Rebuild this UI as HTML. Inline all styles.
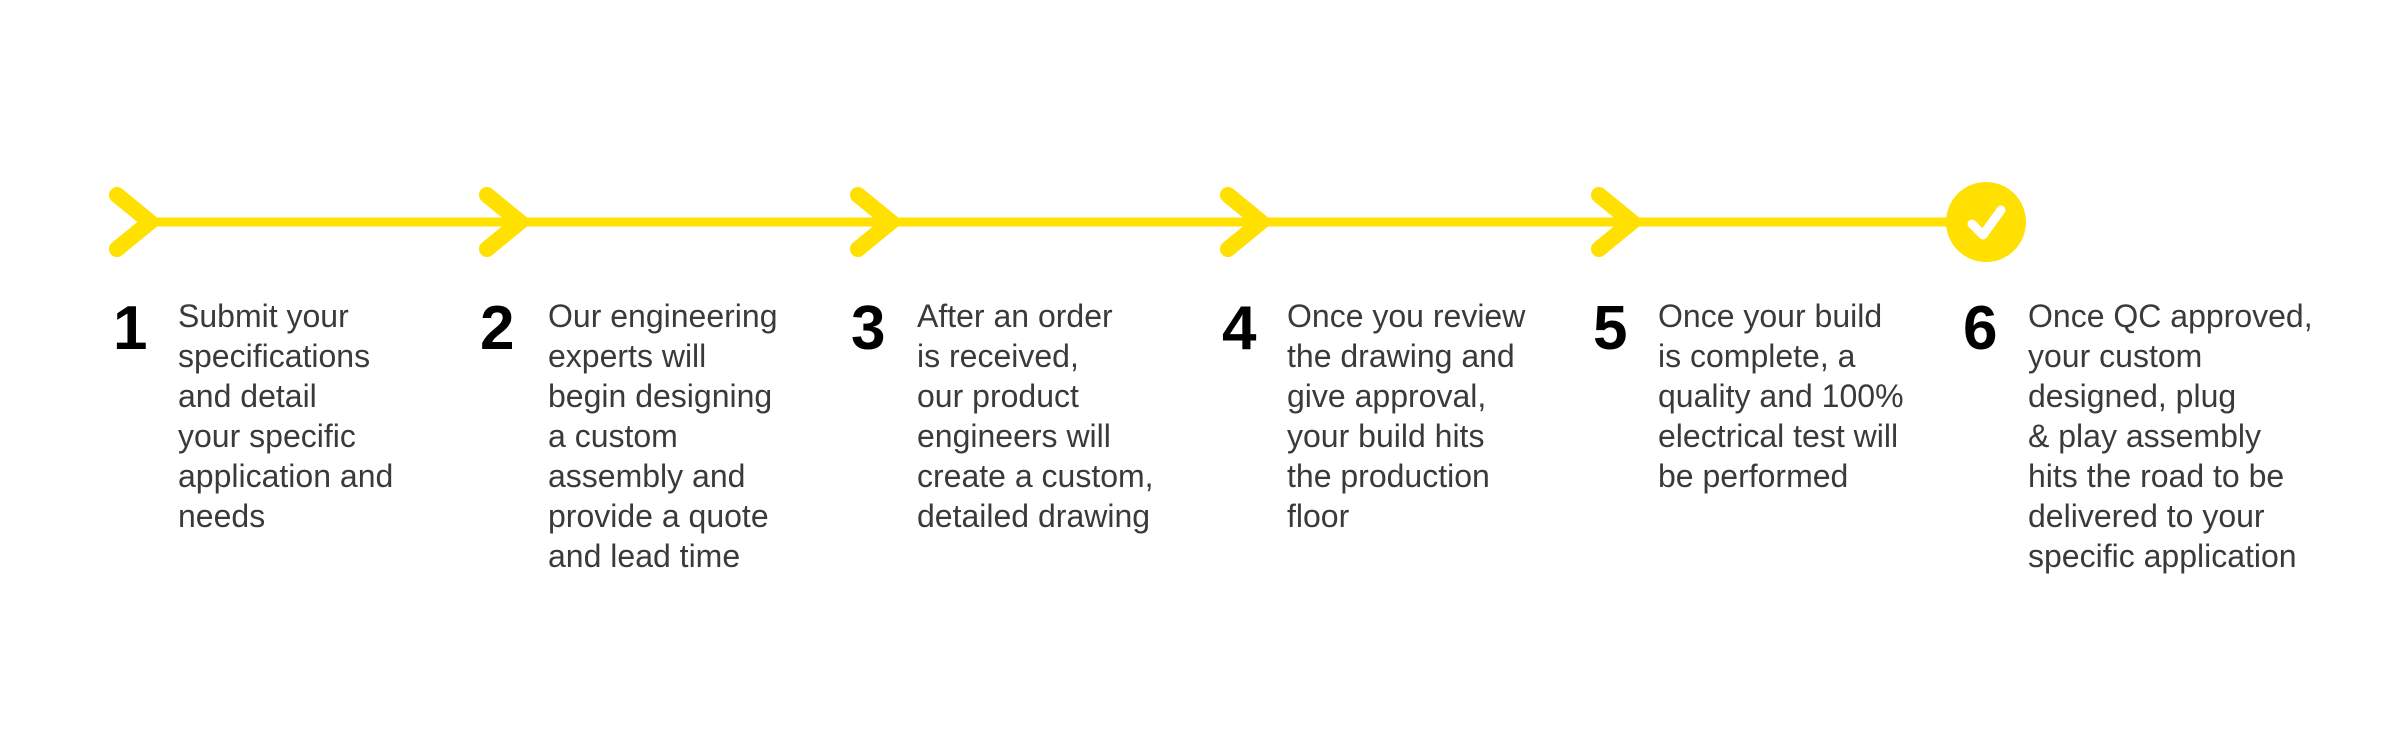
<!DOCTYPE html>
<html><head><meta charset="utf-8"><style>
html,body{margin:0;padding:0;background:#fff;}
body{width:2400px;height:750px;position:relative;overflow:hidden;font-family:"Liberation Sans",Arial,sans-serif;}
.n{position:absolute;top:298px;font-size:62px;font-weight:bold;color:#000;line-height:62px;}
.t{position:absolute;top:296px;font-size:32px;line-height:40px;color:#3a3a3a;letter-spacing:0;white-space:nowrap;}
</style></head><body>
<svg width="2400" height="750" style="position:absolute;left:0;top:0">
<line x1="150" y1="222" x2="1980" y2="222" stroke="#FFE000" stroke-width="9"/>
<g fill="none" stroke="#FFE000" stroke-width="16" stroke-linecap="round" stroke-linejoin="miter">
<polyline points="117,195 150,222 117,249"/>
<polyline points="487,195 520,222 487,249"/>
<polyline points="858,195 891,222 858,249"/>
<polyline points="1228,195 1261,222 1228,249"/>
<polyline points="1599,195 1632,222 1599,249"/>
</g>
<circle cx="1986" cy="222" r="40" fill="#FFE000"/>
<polyline points="1972,224 1983,235 2001,210" fill="none" stroke="#fff" stroke-width="9" stroke-linecap="round" stroke-linejoin="round"/>
</svg>
<div class="n" style="left:113px">1</div>
<div class="t" style="left:178px">Submit your<br>specifications<br>and detail<br>your specific<br>application and<br>needs</div>
<div class="n" style="left:480px">2</div>
<div class="t" style="left:548px">Our engineering<br>experts will<br>begin designing<br>a custom<br>assembly and<br>provide a quote<br>and lead time</div>
<div class="n" style="left:851px">3</div>
<div class="t" style="left:917px">After an order<br>is received,<br>our product<br>engineers will<br>create a custom,<br>detailed drawing</div>
<div class="n" style="left:1222px">4</div>
<div class="t" style="left:1287px">Once you review<br>the drawing and<br>give approval,<br>your build hits<br>the production<br>floor</div>
<div class="n" style="left:1593px">5</div>
<div class="t" style="left:1658px">Once your build<br>is complete, a<br>quality and 100%<br>electrical test will<br>be performed</div>
<div class="n" style="left:1963px">6</div>
<div class="t" style="left:2028px">Once QC approved,<br>your custom<br>designed, plug<br>&amp; play assembly<br>hits the road to be<br>delivered to your<br>specific application</div>
</body></html>
